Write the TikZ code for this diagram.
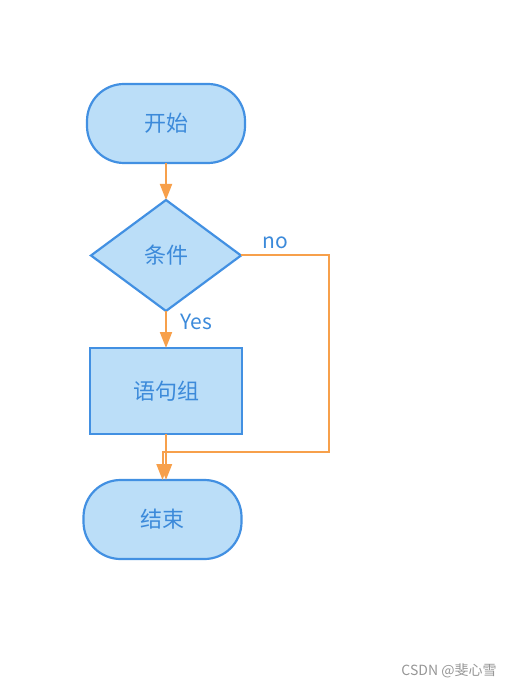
\documentclass[tikz,border=0pt]{standalone}
\usepackage{fontspec}
\setmainfont{Noto Sans CJK SC}
\usetikzlibrary{positioning,shapes.geometric,arrows.meta}
\definecolor{boxfill}{RGB}{187,222,248}
\definecolor{boxline}{RGB}{66,144,226}
\definecolor{boxtext}{RGB}{60,138,218}
\definecolor{flowline}{RGB}{247,160,75}
\begin{document}
\begin{tikzpicture}[x=0.5pt, y=-0.5pt, node distance={18.5pt},
  base/.style = {draw=boxline, fill=boxfill, line width=1.1pt, text=boxtext, font=\fontsize{11pt}{13pt}\selectfont, outer sep=0pt, inner sep=0pt},
  term/.style = {base, rectangle, rounded corners=18.5pt, minimum width=79pt, minimum height=39.5pt},
  cond/.style = {base, diamond, aspect=1.35, minimum width=75pt, minimum height=55.5pt},
  stmt/.style = {base, rectangle, minimum width=76pt, minimum height=43pt},
  flow/.style = {draw=flowline, line width=1pt, -{Triangle[width=6pt,length=8pt]}},
  lbl/.style = {text=boxtext, font=\fontsize{10.5pt}{12pt}\selectfont}]
\useasboundingbox (0,0) rectangle (516,689);
\node[term] (start) at (166,123.5) {开始};
\node[cond] (test) [below=of start] {条件};
\node[stmt] (body) [below=of test] {语句组};
\node[term] (stop) [below=23pt of body, xshift=-1.75pt] {结束};
\coordinate (corner) at (329,452);
\draw[flow] (start) -- (test);
\draw[flow] (test) -- (body);
\draw[flow] (body.south) -- (body.south |- stop.north);
\draw[flow] (test.east) -| (corner) -| (stop.north);
\node[lbl] (no) at (275,243) {no};
\node[lbl] (yes) at (196,322) {Yes};
\node[text={rgb,255:red,150;green,150;blue,150}, font=\fontsize{7pt}{8pt}\selectfont] (mark) at (449,671) {CSDN @斐心雪};
\end{tikzpicture}
\end{document}
